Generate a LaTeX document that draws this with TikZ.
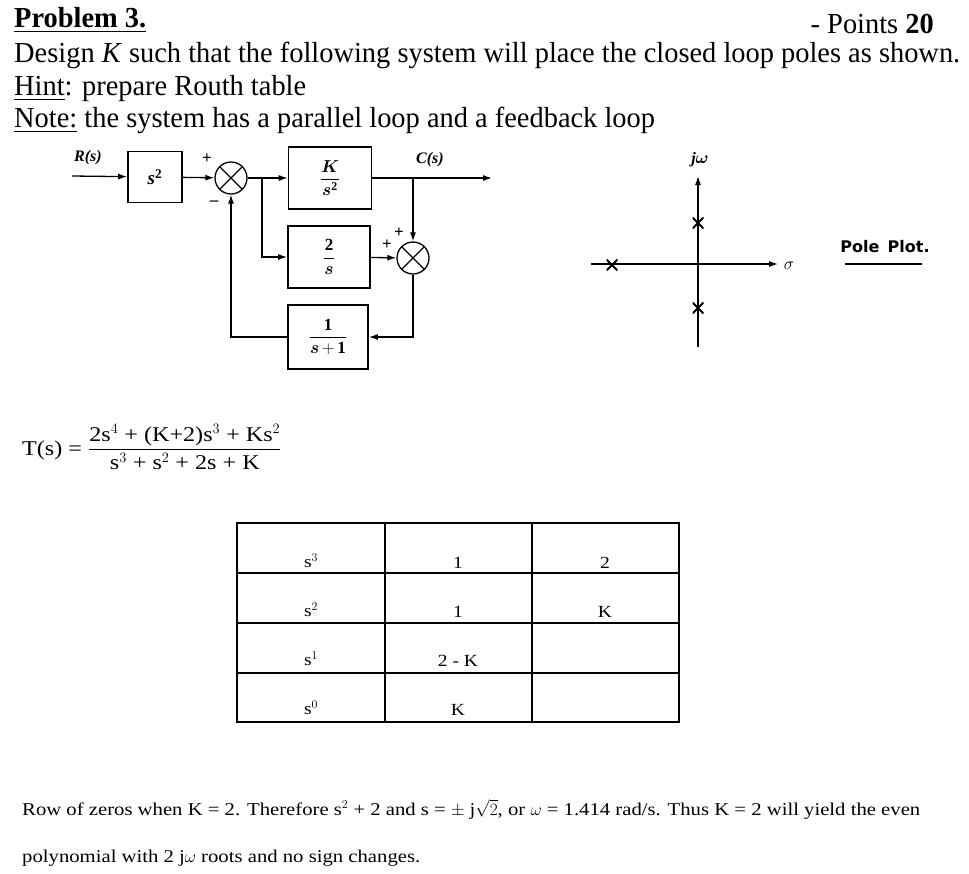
\documentclass[tikz,border=0pt]{standalone}
\usepackage{amsmath,amssymb}
\usepackage{fontspec}
\setmainfont{Liberation Serif}
\newfontfamily\condfont[FakeStretch=0.98]{Liberation Serif}
\newfontfamily\widefont[FakeStretch=1.15]{Liberation Serif}
\newfontfamily\hand{DejaVu Sans}
\usetikzlibrary{arrows.meta}
\tikzset{
 blk/.style={draw,line width=1.6pt,inner sep=0pt},
 sumj/.style={draw,line width=1.3pt,circle,minimum size=32pt,inner sep=0pt,path picture={\draw[line width=1.3pt] (path picture bounding box.north west)--(path picture bounding box.south east) (path picture bounding box.north east)--(path picture bounding box.south west);}},
 sig/.style={line width=1.3pt,-{Latex[length=9pt,width=6pt]}},
 ln/.style={line width=1.3pt},
 lbl/.style={font=\bfseries\itshape\fontsize{16}{17}\selectfont},
 pm/.style={font=\bfseries\fontsize{17}{17}\selectfont},
 top/.style={anchor=base west,inner sep=0pt,font=\condfont\fontsize{29}{30}\selectfont},
 tab/.style={font=\widefont\fontsize{17}{18}\selectfont},
 xm/.style={minimum size=11pt,inner sep=0pt,path picture={\draw[line width=1.8pt] (path picture bounding box.north west)--(path picture bounding box.south east) (path picture bounding box.north east)--(path picture bounding box.south west);}},
}
\begin{document}
\begin{tikzpicture}[x=1pt,y=-1pt]
\useasboundingbox (0,0) rectangle (969,873);
% header
\node[top] (t1) at (14,27) {\bfseries\underline{Problem 3.}};
\node[top,anchor=base east] (t2) at (934,33) {- Points \textbf{20}};
\node[top] (t3) at (14,62) {Design \textit{K} such that the following system will place the closed loop poles as shown.};
\node[top] (t4) at (14,95) {\underline{Hint}: prepare Routh table};
\node[top] (t5) at (14,127) {\underline{Note:} the system has a parallel loop and a feedback loop};
% block diagram
\coordinate (in) at (72,176);
\node[lbl] (R) at (88,158) {R(s)};
\node[blk,minimum width=54pt,minimum height=51pt] (b1) at (155,177) {\bfseries\itshape\fontsize{19}{20}\selectfont s$^{\mathbf 2}$};
\node[sumj] (s1) at (231,178) {};
\node[blk,minimum width=83pt,minimum height=62pt] (b2) at (330,178) {\fontsize{17}{17}\selectfont$\dfrac{\boldsymbol{K}}{\boldsymbol{s}^{\mathbf 2}}$};
\node[blk,minimum width=82pt,minimum height=62pt] (b3) at (329,257) {\fontsize{17}{17}\selectfont$\dfrac{\mathbf 2}{\boldsymbol{s}}$};
\node[blk,minimum width=80pt,minimum height=64pt] (b4) at (328,337) {\fontsize{17}{17}\selectfont$\dfrac{\mathbf 1}{\boldsymbol{s}\,\mathbf{+}\,\mathbf 1}$};
\node[sumj] (s2) at (413,258) {};
\coordinate (br1) at (262,178);
\coordinate (br2) at (413,178);
\coordinate (out) at (492,178);
\node[lbl] (C) at (430,160) {C(s)};
\draw[sig] (in) -- (b1);
\draw[sig] (b1) -- (s1);
\draw[sig] (s1) -- (b2);
\draw[ln] (b2) -- (br2);
\draw[sig] (br2) -- (out);
\draw[sig] (br1) |- (b3);
\draw[sig] (br2) -- (s2);
\draw[sig] (b3) -- (s2);
\draw[sig] (s2) |- (b4);
\draw[sig] (b4) -| (s1);
\node[pm] (p1) at (207,159) {+};
\node[pm] (m1) at (214,203) {--};
\node[pm] (p2) at (399,233) {+};
\node[pm] (p3) at (387,245) {+};
% pole plot
\coordinate (ya) at (698,347); \coordinate (yb) at (698,176);
\coordinate (xa) at (591,264); \coordinate (xb) at (778,264);
\draw[sig,line width=1.2pt] (ya) -- (yb);
\draw[sig,line width=1.2pt] (xa) -- (xb);
\node[lbl] (jw) at (700,160) {j$\boldsymbol{\omega}$};
\node (sg) at (789,266) {\fontsize{17}{17}\selectfont$\sigma$};
\node[xm] (x1) at (698,223) {};
\node[xm] (x2) at (698,308) {};
\node[xm] (x3) at (612,265) {};
\node (pp) at (885,247) {\hand\bfseries\fontsize{16}{17}\selectfont Pole\, Plot.};
\draw[line width=1.6pt] (845,264) -- (922,264);
% transfer function
\node[anchor=west,inner sep=0pt] (T) at (22,447) {\widefont\fontsize{21}{22}\selectfont T(s) = $\dfrac{\text{2s$^4$ + (K+2)s$^3$ + Ks$^2$}}{\text{s$^3$ + s$^2$ + 2s + K}}$};
% Routh table
\draw[line width=1.5pt] (237,523) rectangle (679,722);
\foreach \yy in {573,623,673} \draw[line width=1.2pt] (237,\yy) -- (679,\yy);
\foreach \xx in {385,532} \draw[line width=1.2pt] (\xx,523) -- (\xx,722);
\node[tab] (a1) at (311,561) {s$^3$}; \node[tab] (a2) at (458,563) {1}; \node[tab] (a3) at (605,563) {2};
\node[tab] (b1t) at (311,610) {s$^2$}; \node[tab] (b2t) at (458,612) {1}; \node[tab] (b3t) at (605,612) {K};
\node[tab] (c1) at (311,659) {s$^1$}; \node[tab] (c2) at (458,661) {2 - K};
\node[tab] (d1) at (311,708) {s$^0$}; \node[tab] (d2) at (458,710) {K};
% bottom text
\node[anchor=base west,inner sep=0pt,font=\widefont\fontsize{18}{19}\selectfont] (f1) at (22,815) {Row of zeros when K = 2. Therefore s$^2$ + 2 and s = $\pm$ j$\sqrt{2}$, or $\omega$ = 1.414 rad/s. Thus K = 2 will yield the even};
\node[anchor=base west,inner sep=0pt,font=\widefont\fontsize{18}{19}\selectfont] (f2) at (22,862) {polynomial with 2 j$\omega$ roots and no sign changes.};
\end{tikzpicture}
\end{document}
